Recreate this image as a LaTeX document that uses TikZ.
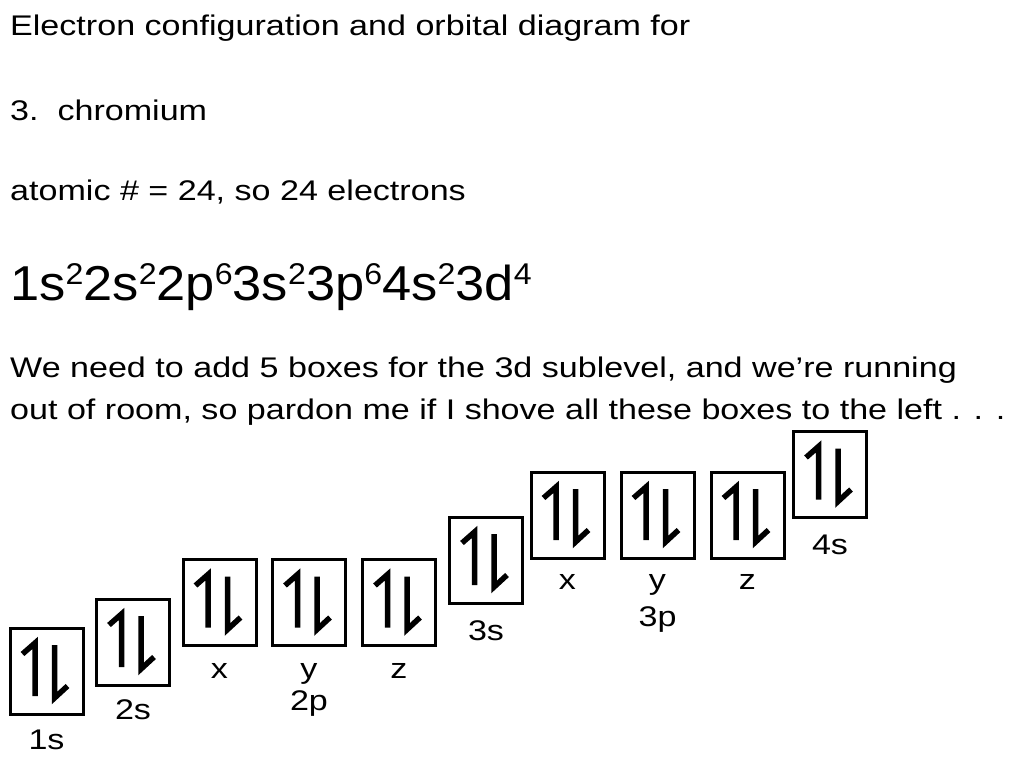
\documentclass[tikz,border=0pt]{standalone}
\usepackage{fontspec}
\setmainfont{Liberation Sans}[FakeStretch=1.2]
\newfontfamily\cfgfont{Liberation Sans}[FakeStretch=1.07]
\usetikzlibrary{calc}
\newcommand\supx[1]{\raisebox{16pt}{\fontsize{30}{30}\selectfont #1}}
\begin{document}
\begin{tikzpicture}[x=1pt,y=-1pt,
  txt/.style={anchor=base west,inner sep=0pt,font=\fontsize{28.4}{34}\selectfont},
  big/.style={anchor=base west,inner sep=0pt,font=\cfgfont\fontsize{49}{60}\selectfont},
  lbl/.style={anchor=base,inner sep=0pt,font=\fontsize{28.4}{34}\selectfont},
  obox/.style={draw,line width=3pt,minimum width=73pt,minimum height=86pt,inner sep=0pt},
  harp/.style={line width=5.5pt,line join=miter,line cap=butt}]
\useasboundingbox (0,0) rectangle (1024,768);
\fill[white] (0,0) rectangle (1024,768);
% texts
\node[txt] (t1) at (10,36) {Electron configuration and orbital diagram for};
\node[txt] (t2) at (10,120) {3.\ \ chromium};
\node[txt] (t3) at (10,200) {atomic \# = 24, so 24 electrons};
\node[big] (cfg) at (10,300) {1s\supx{2}2s\supx{2}2p\supx{6}3s\supx{2}3p\supx{6}4s\supx{2}3d\supx{4}};
\node[txt] (t4) at (10,377) {We need to add 5 boxes for the 3d sublevel, and we’re running};
\node[txt] (t5) at (10,419) {out of room, so pardon me if I shove all these boxes to the left . . .};
% boxes
\node[obox] (b1s) at (46.5,671) {};
\node[obox] (b2s) at (133,642) {};
\node[obox] (b2px) at (219.5,602.5) {};
\node[obox] (b2py) at (309,602.5) {};
\node[obox] (b2pz) at (399,602.5) {};
\node[obox] (b3s) at (486,560) {};
\node[obox] (b3px) at (567.5,515) {};
\node[obox] (b3py) at (657.5,515) {};
\node[obox] (b3pz) at (747.5,515) {};
\node[obox] (b4s) at (830,474.5) {};
% harpoons
\foreach \n in {b1s,b2s,b2px,b2py,b2pz,b3s,b3px,b3py,b3pz,b4s}{
  \draw[harp] ($(\n.center)+(-11.5,25)$) -- ($(\n.center)+(-11.5,-28)$) -- ($(\n.center)+(-24,-17)$);
  \draw[harp] ($(\n.center)+(8,-26)$) -- ($(\n.center)+(8,27)$) -- ($(\n.center)+(21,15)$);
}
% labels
\node[lbl] (l1s) at ($(b1s.south)+(0,34)$) {1s};
\node[lbl] (l2s) at ($(b2s.south)+(0,33)$) {2s};
\node[lbl] (l2px) at ($(b2px.south)+(0,31)$) {x};
\node[lbl] (l2py) at ($(b2py.south)+(0,31)$) {y};
\node[lbl] (l2pz) at ($(b2pz.south)+(0,31)$) {z};
\node[lbl] (l2p) at ($(b2py.south)+(0,63)$) {2p};
\node[lbl] (l3s) at ($(b3s.south)+(0,36)$) {3s};
\node[lbl] (l3px) at ($(b3px.south)+(0,30)$) {x};
\node[lbl] (l3py) at ($(b3py.south)+(0,30)$) {y};
\node[lbl] (l3pz) at ($(b3pz.south)+(0,30)$) {z};
\node[lbl] (l3p) at ($(b3py.south)+(0,67)$) {3p};
\node[lbl] (l4s) at ($(b4s.south)+(0,35)$) {4s};
\end{tikzpicture}
\end{document}
